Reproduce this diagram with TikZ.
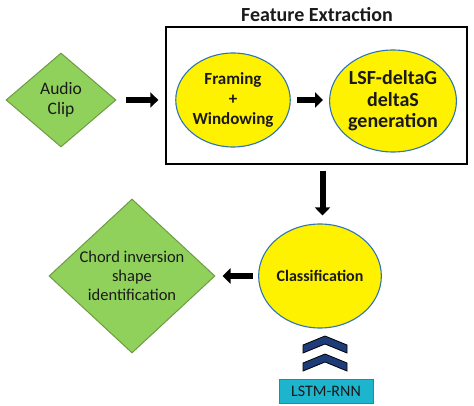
\documentclass[tikz,border=0pt]{standalone}
\usepackage{fontspec}
\setmainfont{Carlito}
\usetikzlibrary{shapes.geometric,arrows.meta}
\definecolor{dgreen}{HTML}{8FD15A}
\definecolor{dgreenb}{HTML}{6F9A45}
\definecolor{eblue}{HTML}{2E75B6}
\definecolor{navy}{HTML}{1F3C7A}
\definecolor{cyanbox}{HTML}{1DB4CE}
\definecolor{cyanb}{HTML}{1790A8}
\definecolor{txt}{HTML}{1A1A1A}
\tikzset{
  greendia/.style={diamond, draw=dgreenb, fill=dgreen, line width=1pt, inner sep=0pt, align=center, text=txt},
  yellowell/.style={ellipse, draw=eblue, fill=yellow, line width=1.1pt, inner sep=0pt, align=center, text=txt, font=\bfseries\fontsize{17}{20}\selectfont},
  blockarrow/.style={line width=6pt, -{Triangle[length=8pt,width=15pt]}},
  chev/.style={fill=navy, draw=black, line width=0.8pt, line join=miter},
}
\begin{document}
\begin{tikzpicture}[x=1pt,y=-1pt]
\useasboundingbox (0,0) rectangle (474,406);
% feature extraction box
\node[draw=black, line width=1.3pt, minimum width=301pt, minimum height=137pt, inner sep=0pt] (box) at (316.5,95.5) {};
\node[font=\bfseries\fontsize{20}{22}\selectfont, text=txt] (title) at (317,15) {Feature Extraction};
% nodes
\node[greendia, minimum width=110pt, minimum height=94pt, font=\fontsize{17}{20}\selectfont] (audio) at (61,100) {};
\node[align=center, text=txt, font=\fontsize{17.5}{20}\selectfont] (audiot) at (61,100) {Audio\\Clip};
\node[yellowell, minimum width=112pt, minimum height=94pt] (fram) at (233,100) {Framing\\+\\Windowing};
\node[yellowell, minimum width=124pt, minimum height=102pt, font=\bfseries\fontsize{20}{21.5}\selectfont] (lsf) at (393,101) {LSF-deltaG\\deltaS\\generation};
\node[yellowell, minimum width=108pt, minimum height=104pt, font=\bfseries\fontsize{16}{19}\selectfont] (cls) at (320,276) {Classification};
\node[greendia, minimum width=166pt, minimum height=154pt] (chord) at (132,276) {};
\node[align=center, text=txt, font=\fontsize{16.5}{19}\selectfont] (chordt) at (132,276) {Chord inversion\\shape\\identification};
\node[draw=cyanb, fill=cyanbox, line width=1pt, minimum width=94pt, minimum height=24pt, inner sep=0pt, text=txt, font=\fontsize{16}{18}\selectfont] (lstm) at (326,391) {LSTM-RNN};
% arrows
\draw[blockarrow, shorten <=9pt, shorten >=7pt] (audio.east) -- (box.west |- audio.east);
\draw[blockarrow, shorten <=6pt, shorten >=6pt] (fram.east) -- (lsf.west |- fram.east);
\coordinate (dtop) at ([xshift=6pt]box.south);
\draw[blockarrow, shorten <=6pt, shorten >=8pt] (dtop) -- (dtop |- cls.north);
\draw[blockarrow, shorten <=5pt, shorten >=7pt] (cls.west) -- (chord.east);
% chevrons
\foreach \yy in {336,354}{
  \draw[chev] ([xshift=-23pt]lstm.north |- 0,\yy+9) -- ([xshift=-1pt]lstm.north |- 0,\yy) -- ([xshift=21pt]lstm.north |- 0,\yy+9) -- ([xshift=21pt]lstm.north |- 0,\yy+17) -- ([xshift=-1pt]lstm.north |- 0,\yy+8) -- ([xshift=-23pt]lstm.north |- 0,\yy+17) -- cycle;
}
\end{tikzpicture}
\end{document}
